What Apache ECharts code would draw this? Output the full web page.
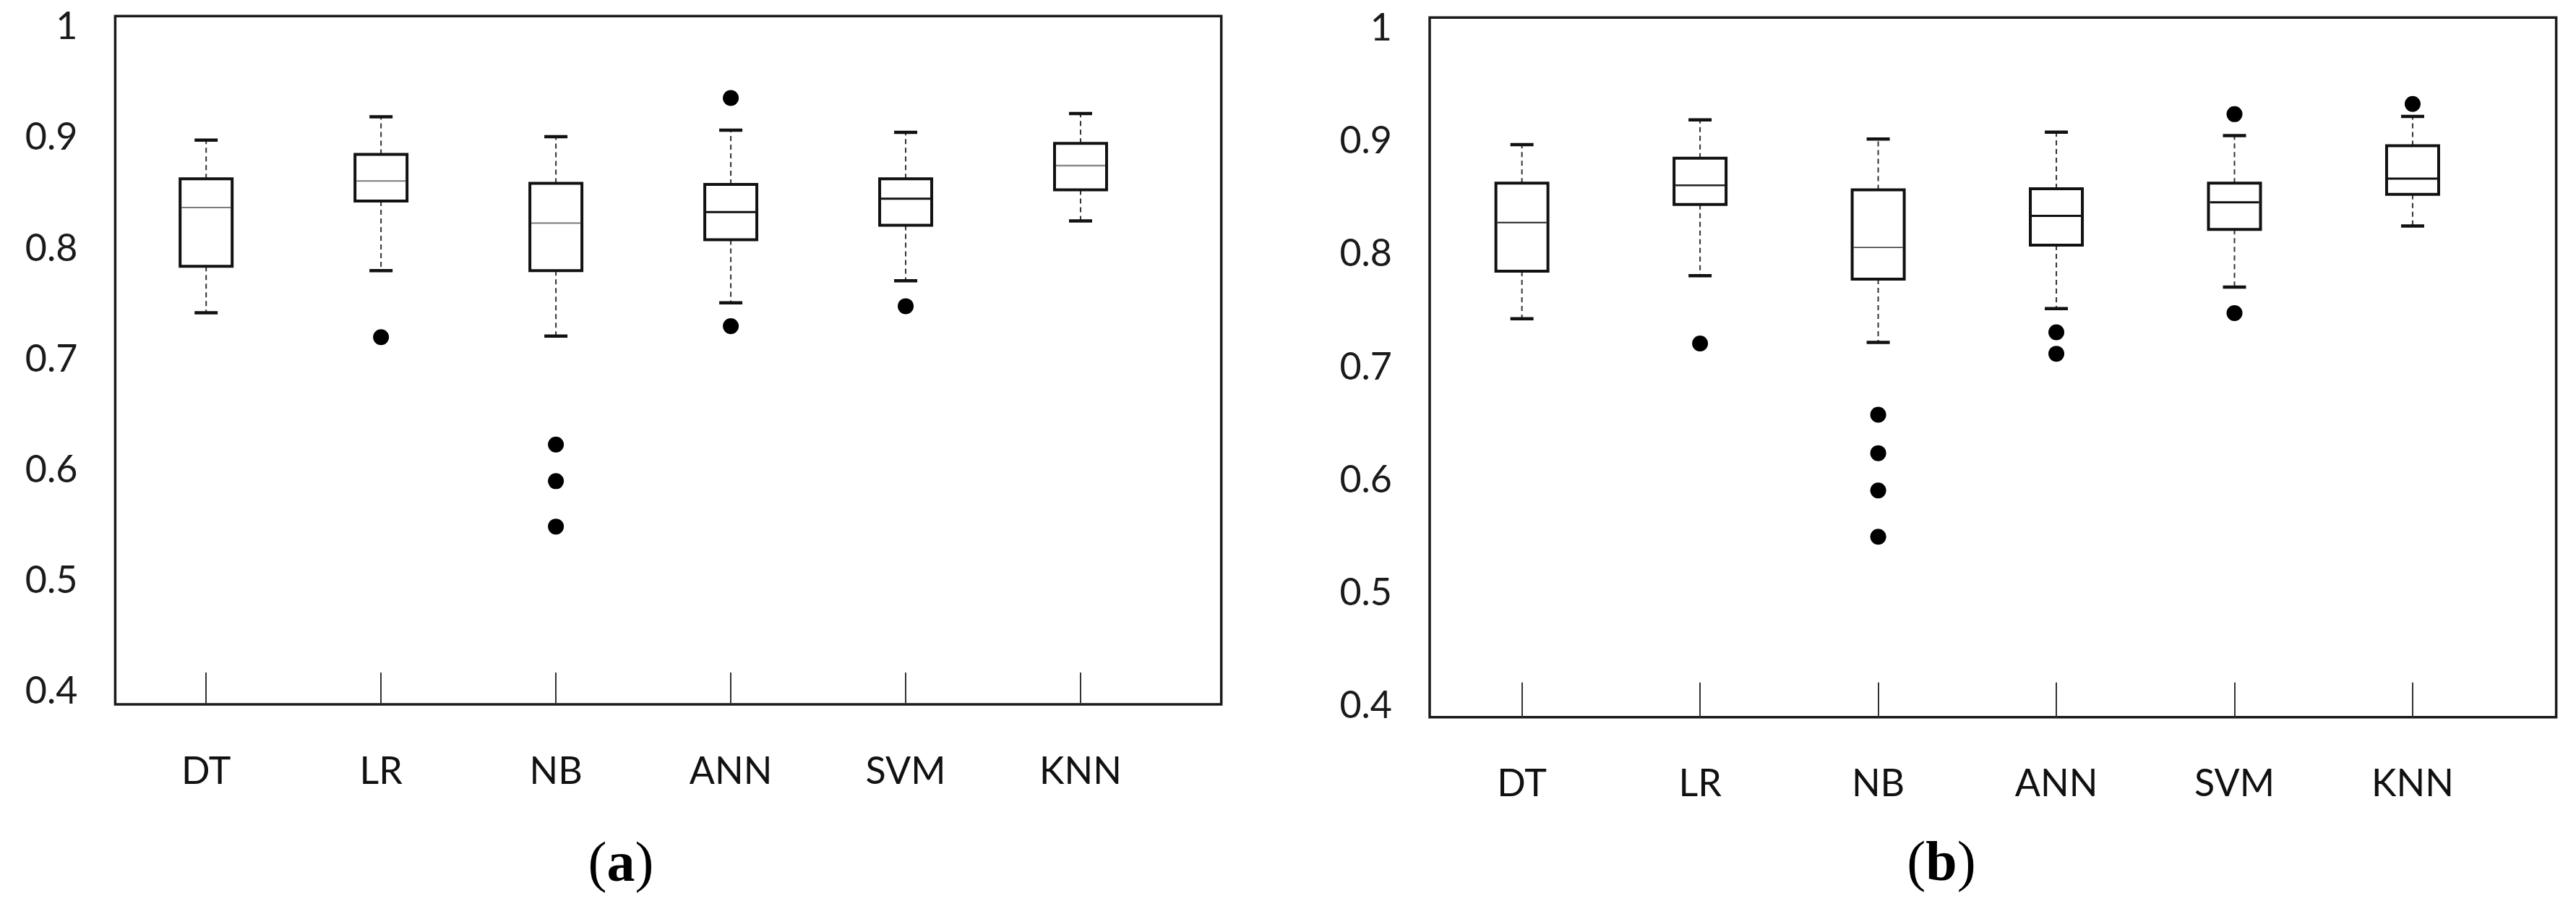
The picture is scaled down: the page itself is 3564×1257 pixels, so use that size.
<!DOCTYPE html>
<html>
<head>
<meta charset="utf-8">
<script src="https://cdn.jsdelivr.net/npm/echarts@6/dist/echarts.min.js"></script>
<style>
  html, body { margin: 0; padding: 0; background: #fff; }
  #chart { width: 3564px; height: 1257px; }
</style>
</head>
<body>
<div id="chart"></div>
<script>
// ---------- data ----------
const categories = ['DT', 'LR', 'NB', 'ANN', 'SVM', 'KNN'];
const yTickValues = [0.4, 0.5, 0.6, 0.7, 0.8, 0.9, 1.0];

// panel (a)
const lowA  = [0.742, 0.780, 0.721, 0.751, 0.771, 0.825];
const q1A   = [0.784, 0.843, 0.780, 0.808, 0.821, 0.853];
const medA  = [0.837, 0.861, 0.823, 0.833, 0.845, 0.875];
const q3A   = [0.863, 0.885, 0.859, 0.858, 0.863, 0.895];
const highA = [0.898, 0.919, 0.901, 0.907, 0.905, 0.922];
const outCatsA = ['LR', 'NB', 'NB', 'NB', 'ANN', 'ANN', 'SVM'];
const outValsA = [0.720, 0.623, 0.590, 0.549, 0.936, 0.730, 0.748];

// panel (b)
const lowB  = [0.743, 0.781, 0.722, 0.752, 0.771, 0.825];
const q1B   = [0.785, 0.844, 0.778, 0.808, 0.822, 0.853];
const medB  = [0.828, 0.861, 0.806, 0.834, 0.846, 0.867];
const q3B   = [0.863, 0.885, 0.857, 0.858, 0.863, 0.896];
const highB = [0.897, 0.919, 0.902, 0.908, 0.905, 0.922];
const outCatsB = ['LR', 'NB', 'NB', 'NB', 'NB', 'ANN', 'ANN', 'SVM', 'SVM', 'KNN'];
const outValsB = [0.721, 0.658, 0.624, 0.591, 0.550, 0.731, 0.712, 0.924, 0.748, 0.933];

// ---------- styles ----------
const medStyleA = [['#7a7a7a', 2], ['#7a7a7a', 2], ['#7a7a7a', 2], ['#111', 3], ['#111', 3], ['#8a8a8a', 2.5]];
const medStyleB = [['#222', 2], ['#222', 2.5], ['#333', 1.5], ['#111', 3], ['#111', 3], ['#111', 3]];

function rows(low, q1, med, q3, high) {
  return categories.map((c, i) => [c, low[i], q1[i], med[i], q3[i], high[i]]);
}
function outliers(cats, vals) {
  return cats.map((c, i) => [c, vals[i]]);
}

function makeRender(medStyle) {
  return function (params, api) {
    const x = api.value(0);
    const pLow = api.coord([x, api.value(1)]);
    const pQ1 = api.coord([x, api.value(2)]);
    const pMed = api.coord([x, api.value(3)]);
    const pQ3 = api.coord([x, api.value(4)]);
    const pHigh = api.coord([x, api.value(5)]);
    const cx = pLow[0];
    const bw = 72, cw = 32;
    const ms = medStyle[params.dataIndex];
    const wStyle = { stroke: '#333', lineWidth: 2, lineDash: [7, 5] };
    const cStyle = { stroke: '#111', lineWidth: 4.5 };
    return {
      type: 'group',
      children: [
        { type: 'line', shape: { x1: cx, y1: pQ3[1], x2: cx, y2: pHigh[1] }, style: wStyle },
        { type: 'line', shape: { x1: cx, y1: pQ1[1], x2: cx, y2: pLow[1] }, style: wStyle },
        { type: 'line', shape: { x1: cx - cw / 2, y1: pHigh[1], x2: cx + cw / 2, y2: pHigh[1] }, style: cStyle },
        { type: 'line', shape: { x1: cx - cw / 2, y1: pLow[1], x2: cx + cw / 2, y2: pLow[1] }, style: cStyle },
        { type: 'rect', shape: { x: cx - bw / 2, y: pQ3[1], width: bw, height: pQ1[1] - pQ3[1] },
          style: { fill: '#fff', stroke: '#111', lineWidth: 4 } },
        { type: 'line', shape: { x1: cx - bw / 2 + 2, y1: pMed[1], x2: cx + bw / 2 - 2, y2: pMed[1] },
          style: { stroke: ms[0], lineWidth: ms[1] } }
      ]
    };
  };
}

const labelFont = 'Lato, "Noto Sans", sans-serif';

function frameGrid(left, top, width, height) {
  return { left, top, width, height, show: true, borderColor: '#1a1a1a', borderWidth: 3.5, backgroundColor: 'transparent' };
}

const panels = [
  { frame: [159.4, 22.3, 1530.3, 951.7], data: [164.2, 22.3, 1451.8, 951.7], yMin: 0.38847, yMax: 1.00989, tickLen: 44,
    rows: rows(lowA, q1A, medA, q3A, highA), out: outliers(outCatsA, outValsA), med: medStyleA },
  { frame: [1978, 24.2, 1558.6, 967.5], data: [1982.4, 24.2, 1478.8, 967.5], yMin: 0.39037, yMax: 1.00954, tickLen: 48,
    rows: rows(lowB, q1B, medB, q3B, highB), out: outliers(outCatsB, outValsB), med: medStyleB }
];

const grid = [], xAxis = [], yAxis = [], series = [];
panels.forEach((p, k) => {
  const fi = grid.length;
  grid.push(frameGrid(...p.frame));
  const di = grid.length;
  grid.push({ left: p.data[0], top: p.data[1], width: p.data[2], height: p.data[3] });

  xAxis.push({ gridIndex: fi, type: 'value', show: false, min: 0, max: 1 });
  yAxis.push({
    gridIndex: fi, type: 'value', min: p.yMin, max: p.yMax,
    axisLine: { show: false }, axisTick: { show: false }, splitLine: { show: false },
    axisLabel: {
      customValues: yTickValues, margin: 52, fontSize: 52, fontFamily: labelFont, color: '#1a1a1a',
      formatter: v => String(+v.toFixed(1))
    }
  });

  xAxis.push({
    gridIndex: di, type: 'category', data: categories, boundaryGap: true,
    axisLine: { show: false },
    axisTick: { show: true, inside: true, alignWithLabel: true, length: p.tickLen, lineStyle: { color: '#333', width: 2 } },
    axisLabel: { margin: 67, fontSize: 52, fontFamily: labelFont, color: '#111' },
    splitLine: { show: false }
  });
  yAxis.push({ gridIndex: di, type: 'value', min: p.yMin, max: p.yMax, show: false, splitLine: { show: false } });

  const xi = xAxis.length - 1, yi = yAxis.length - 1;
  series.push({
    type: 'custom', xAxisIndex: xi, yAxisIndex: yi,
    renderItem: makeRender(p.med),
    encode: { x: 0, y: [1, 2, 3, 4, 5] },
    data: p.rows, silent: true, z: 3
  });
  series.push({
    type: 'scatter', xAxisIndex: xi, yAxisIndex: yi,
    symbol: 'circle', symbolSize: 22, itemStyle: { color: '#000', opacity: 1 },
    data: p.out, silent: true, z: 4
  });
});

const chart = echarts.init(document.getElementById('chart'), null, { renderer: 'canvas' });
chart.setOption({
  animation: false,
  backgroundColor: '#fff',
  grid, xAxis, yAxis, series,
  graphic: [
    { type: 'text', x: 859, y: 1198, style: {
      text: '{p|(}{b|a}{p|)}', align: 'center', verticalAlign: 'middle',
      rich: { p: { fontFamily: '"Liberation Serif", serif', fontSize: 78, fill: '#000' },
              b: { fontFamily: '"Liberation Serif", serif', fontSize: 78, fontWeight: 'bold', fill: '#000' } } } },
    { type: 'text', x: 2686, y: 1197, style: {
      text: '{p|(}{b|b}{p|)}', align: 'center', verticalAlign: 'middle',
      rich: { p: { fontFamily: '"Liberation Serif", serif', fontSize: 78, fill: '#000' },
              b: { fontFamily: '"Liberation Serif", serif', fontSize: 78, fontWeight: 'bold', fill: '#000' } } } }
  ]
});
</script>
</body>
</html>
